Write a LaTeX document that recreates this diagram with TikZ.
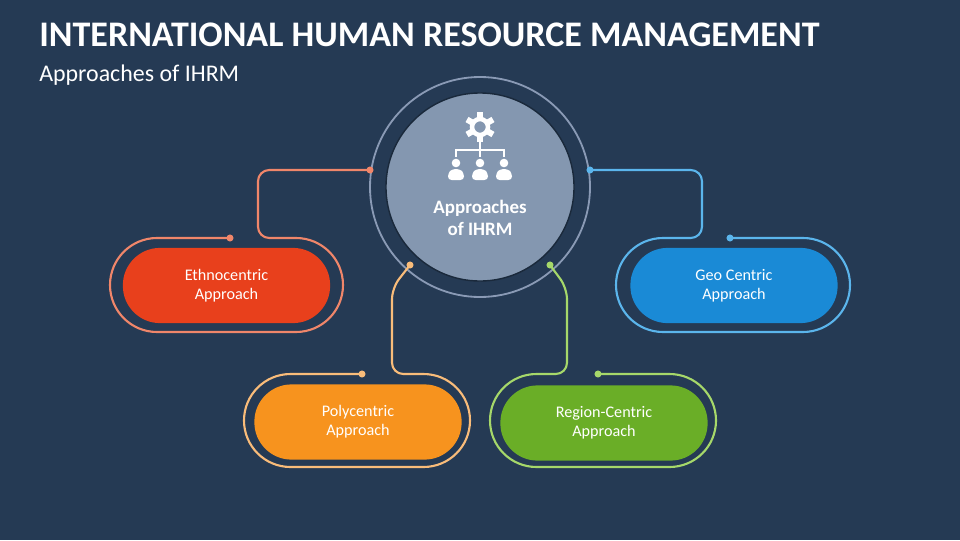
\documentclass[tikz,border=0pt]{standalone}
\usepackage{fontspec}
\setmainfont{Carlito}
\usetikzlibrary{positioning}
\definecolor{mybg}{HTML}{253A54}
\definecolor{myring}{HTML}{8A9AB5}
\definecolor{myhub}{HTML}{8497B0}
\definecolor{myred1}{HTML}{E8401C}
\definecolor{myred2}{HTML}{F0866A}
\definecolor{myora1}{HTML}{F7931E}
\definecolor{myora2}{HTML}{F9BC7A}
\definecolor{mygre1}{HTML}{6AAE27}
\definecolor{mygre2}{HTML}{A6D86A}
\definecolor{myblu1}{HTML}{1A8AD6}
\definecolor{myblu2}{HTML}{5BB5EC}
\tikzset{
  pill/.style={rectangle, rounded corners=0.93cm, minimum width=5.18cm, minimum height=1.88cm, text centered, align=center, text=white, font=\fontsize{11.5}{13.5}\selectfont},
  outline/.style={line width=1.5pt},
  dot/.style={circle, inner sep=0pt, minimum size=5pt},
  icon/.style={white, line width=1.6pt},
}
\begin{document}
\begin{tikzpicture}[x=0.025cm,y=-0.025cm]
	\fill[mybg] (0,0) rectangle (960,540);
	% titles
	\node (title)[anchor=base west, inner sep=0, text=white, font=\fontsize{25.6}{28}\bfseries] at (39,46) {INTERNATIONAL HUMAN RESOURCE MANAGEMENT};
	\node (sub)[anchor=base west, inner sep=0, text=white, font=\fontsize{17}{19}\selectfont] at (39,81) {Approaches of IHRM};
	% hub
	\draw[myring, line width=1.3pt] (480,187) circle (110);
	\node (hub)[circle, minimum size=4.7cm, fill=myhub, draw=mybg!70!black, line width=1pt] at (480,187) {};
	\node (hubtext)[align=center, text=white, font=\fontsize{13.5}{16}\bfseries] at (480,218) {Approaches\\of IHRM};
	% icon
	\draw[icon, line width=3.2pt] (480,127) circle (8);
	\foreach \a in {0,60,...,300}
		\fill[white, rotate around={\a:(480,127)}] (477,112) rectangle (483,118);
	\draw[icon] (480,140) -- (480,150) (456,157) -- (456,150) -- (504,150) -- (504,157) (480,150) -- (480,157);
	\foreach \x in {456,480,504}{
		\fill[white] (\x,163) circle (4.3);
		\fill[white, rounded corners=2.5] (\x-8,180) -- (\x-8,173) -- (\x-4,169) -- (\x+4,169) -- (\x+8,173) -- (\x+8,180) -- cycle;
	}
	% pills
	\node (ethno)[pill, fill=myred1] at (226.5,285.5) {Ethnocentric\\Approach};
	\node (poly)[pill, fill=myora1] at (358,422) {Polycentric\\Approach};
	\node (region)[pill, fill=mygre1] at (604,423) {Region-Centric\\Approach};
	\node (geo)[pill, fill=myblu1] at (734,285.5) {Geo Centric\\Approach};
	% connector ends
	\coordinate (eh) at (370,170);
	\coordinate (ep) at (230,238);
	\coordinate (ph) at (410,265);
	\coordinate (pp) at (362,374);
	\coordinate (rh) at (550,265);
	\coordinate (rp) at (598,374);
	\coordinate (gh) at (590,170);
	\coordinate (gp) at (730,238);
	% outlines
	\draw[outline, myred2] (ep) -- (157,238) arc[start angle=-90, end angle=-270, radius=47] -- (296,332) arc[start angle=90, end angle=-90, radius=47] [rounded corners=8] -- (258,238) -- (258,170) -- (eh);
	\draw[outline, myora2] (pp) -- (290.5,374) arc[start angle=-90, end angle=-270, radius=46.5] -- (423.5,467) arc[start angle=90, end angle=-90, radius=46.5] [rounded corners=8] -- (392,374) -- (392,288) -- (ph);
	\draw[outline, mygre2] (rp) -- (669.5,374) arc[start angle=-90, end angle=90, radius=46.5] -- (536.5,467) arc[start angle=90, end angle=270, radius=46.5] [rounded corners=8] -- (567,374) -- (567,288) -- (rh);
	\draw[outline, myblu2] (gp) -- (803,238) arc[start angle=-90, end angle=90, radius=47] -- (663,332) arc[start angle=90, end angle=270, radius=47] [rounded corners=8] -- (702,238) -- (702,170) -- (gh);
	% dots
	\foreach \c/\col in {eh/myred2, ep/myred2, ph/myora2, pp/myora2, rh/mygre2, rp/mygre2, gh/myblu2, gp/myblu2}
		\node[dot, fill=\col] at (\c) {};
\end{tikzpicture}
\end{document}
